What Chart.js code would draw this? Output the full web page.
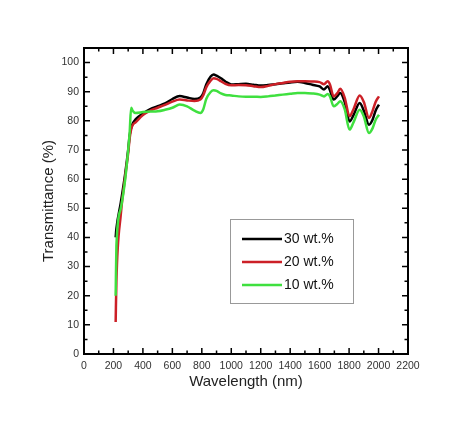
<!DOCTYPE html>
<html>
<head>
<meta charset="utf-8">
<script src="https://cdn.jsdelivr.net/npm/chart.js@4"></script>
<style>
  html, body { margin: 0; padding: 0; background: #fff; }
  #wrap { width: 474px; height: 425px; }
</style>
</head>
<body>
<div id="wrap"><canvas id="specChart"></canvas></div>
<script>
// wavelength grid (nm)
const wavelengths = [215, 220, 250, 280, 300, 310, 320, 330, 350, 400, 450, 500, 550, 600, 650, 700, 750, 790, 810, 830, 860, 880, 900, 930, 960, 1000, 1050, 1100, 1150, 1200, 1250, 1300, 1350, 1400, 1450, 1500, 1550, 1600, 1630, 1655, 1670, 1695, 1720, 1740, 1770, 1803, 1830, 1872, 1900, 1935, 1960, 1980, 2003];

// transmittance (%)
const t30 = [40, 43, 52, 62, 70, 75, 77.5, 79, 80.5, 82.5, 84, 85, 86, 87.5, 88.5, 88, 87.5, 88, 89.5, 92.5, 95.2, 95.9, 95.5, 94.6, 93.5, 92.5, 92.6, 92.7, 92.4, 92.1, 92.3, 92.6, 92.9, 93.2, 93.4, 93, 92.4, 91.8, 90.8, 91.9, 90.5, 87.3, 88.5, 89.6, 86.5, 79.8, 82, 86.1, 83.5, 78.7, 80.5, 83.5, 85.6];
const t20 = [11, 25, 48, 61, 69, 74, 77, 78.5, 79.5, 82, 83.5, 84.5, 85.5, 86.6, 87.3, 87, 86.8, 87.3, 88.8, 91.5, 93.8, 94.6, 94.4, 93.6, 92.7, 92.2, 92.3, 92.2, 91.9, 91.6, 92, 92.6, 93, 93.4, 93.6, 93.6, 93.5, 93.3, 92.6, 93.6, 92.5, 88.4, 89.5, 91, 88, 81.6, 84, 88.7, 86.5, 81, 83.5, 86.5, 88.4];
const t10 = [20, 37, 50, 60, 70, 76, 84.5, 83.5, 82.7, 83, 83.2, 83.3, 83.8, 84.5, 85.6, 85, 83.5, 82.7, 84, 87.5, 89.9, 90.5, 90.3, 89.4, 88.9, 88.7, 88.4, 88.3, 88.3, 88.2, 88.4, 88.7, 89, 89.3, 89.6, 89.6, 89.4, 89, 88.4, 89.2, 88.4, 85, 85.8, 86.7, 84, 77, 79.5, 83.8, 81.5, 75.8, 77.5, 80.3, 82.1];

const seriesLabels = ['30 wt.%', '20 wt.%', '10 wt.%'];
const seriesColors = ['#000000', '#cc2027', '#3fe03f'];

const toPts = arr => arr.map((v, i) => ({ x: wavelengths[i], y: v }));
const FONT = '"Liberation Sans", Arial, sans-serif';

// frame + inward ticks on all four sides, plus the boxed legend
const framePlugin = {
  id: 'frame',
  afterDraw(chart) {
    const { ctx, chartArea: a, scales: { x, y } } = chart;
    ctx.save();
    ctx.strokeStyle = '#000';
    ctx.lineWidth = 2;
    ctx.strokeRect(a.left, a.top, a.right - a.left, a.bottom - a.top);
    ctx.lineWidth = 1.5;
    ctx.beginPath();
    for (let v = 0; v <= 2200; v += 100) {
      const px = x.getPixelForValue(v);
      const len = v % 200 === 0 ? 6 : 3.5;
      ctx.moveTo(px, a.bottom); ctx.lineTo(px, a.bottom - len);
      ctx.moveTo(px, a.top); ctx.lineTo(px, a.top + len);
    }
    for (let v = 0; v <= 100; v += 5) {
      const py = y.getPixelForValue(v);
      const len = v % 10 === 0 ? 6 : 3.5;
      ctx.moveTo(a.left, py); ctx.lineTo(a.left + len, py);
      ctx.moveTo(a.right, py); ctx.lineTo(a.right - len, py);
    }
    ctx.stroke();

    // legend box
    const bx = 230, by = 219, bw = 123, bh = 84;
    ctx.fillStyle = '#fff';
    ctx.fillRect(bx, by, bw, bh);
    ctx.strokeStyle = '#999';
    ctx.lineWidth = 1;
    ctx.strokeRect(bx + 0.5, by + 0.5, bw, bh);
    ctx.font = '14px ' + FONT;
    ctx.textBaseline = 'middle';
    seriesLabels.forEach((lab, i) => {
      const ly = by + 20 + i * 23;
      ctx.strokeStyle = seriesColors[i];
      ctx.lineWidth = 2.5;
      ctx.beginPath();
      ctx.moveTo(bx + 12, ly); ctx.lineTo(bx + 52, ly);
      ctx.stroke();
      ctx.fillStyle = '#111';
      ctx.fillText(lab, bx + 54, ly);
    });
    ctx.restore();
  }
};

new Chart(document.getElementById('specChart'), {
  type: 'line',
  data: {
    datasets: [
      { label: seriesLabels[2], data: toPts(t10), borderColor: seriesColors[2] },
      { label: seriesLabels[1], data: toPts(t20), borderColor: seriesColors[1] },
      { label: seriesLabels[0], data: toPts(t30), borderColor: seriesColors[0] }
    ]
  },
  options: {
    responsive: true,
    maintainAspectRatio: false,
    animation: false,
    layout: { padding: { left: 0, right: 66, top: 48, bottom: 0 } },
    elements: {
      point: { radius: 0 },
      line: { borderWidth: 2.5, cubicInterpolationMode: 'monotone', fill: false }
    },
    plugins: { legend: { display: false }, tooltip: { enabled: false } },
    scales: {
      x: {
        type: 'linear',
        min: 0, max: 2200,
        grid: { display: false, drawTicks: false },
        border: { display: false },
        ticks: { stepSize: 200, autoSkip: false, padding: 6, maxRotation: 0, color: '#333',
                 callback: v => String(v),
                 font: { family: FONT, size: 10.5 } },
        title: { display: true, text: 'Wavelength (nm)', color: '#222',
                 font: { family: FONT, size: 15 },
                 padding: { top: 0, bottom: 34 } },
        afterFit(s) { s.height = 71; }
      },
      y: {
        min: 0, max: 105,
        grid: { display: false, drawTicks: false },
        border: { display: false },
        ticks: { stepSize: 10, includeBounds: false, padding: 5, color: '#333',
                 font: { family: FONT, size: 10.5 } },
        title: { display: true, text: 'Transmittance (%)', color: '#222',
                 font: { family: FONT, size: 15 },
                 padding: { top: 40, bottom: 0 } },
        afterFit(s) { s.width = 84; }
      }
    }
  },
  plugins: [framePlugin]
});
</script>
</body>
</html>
